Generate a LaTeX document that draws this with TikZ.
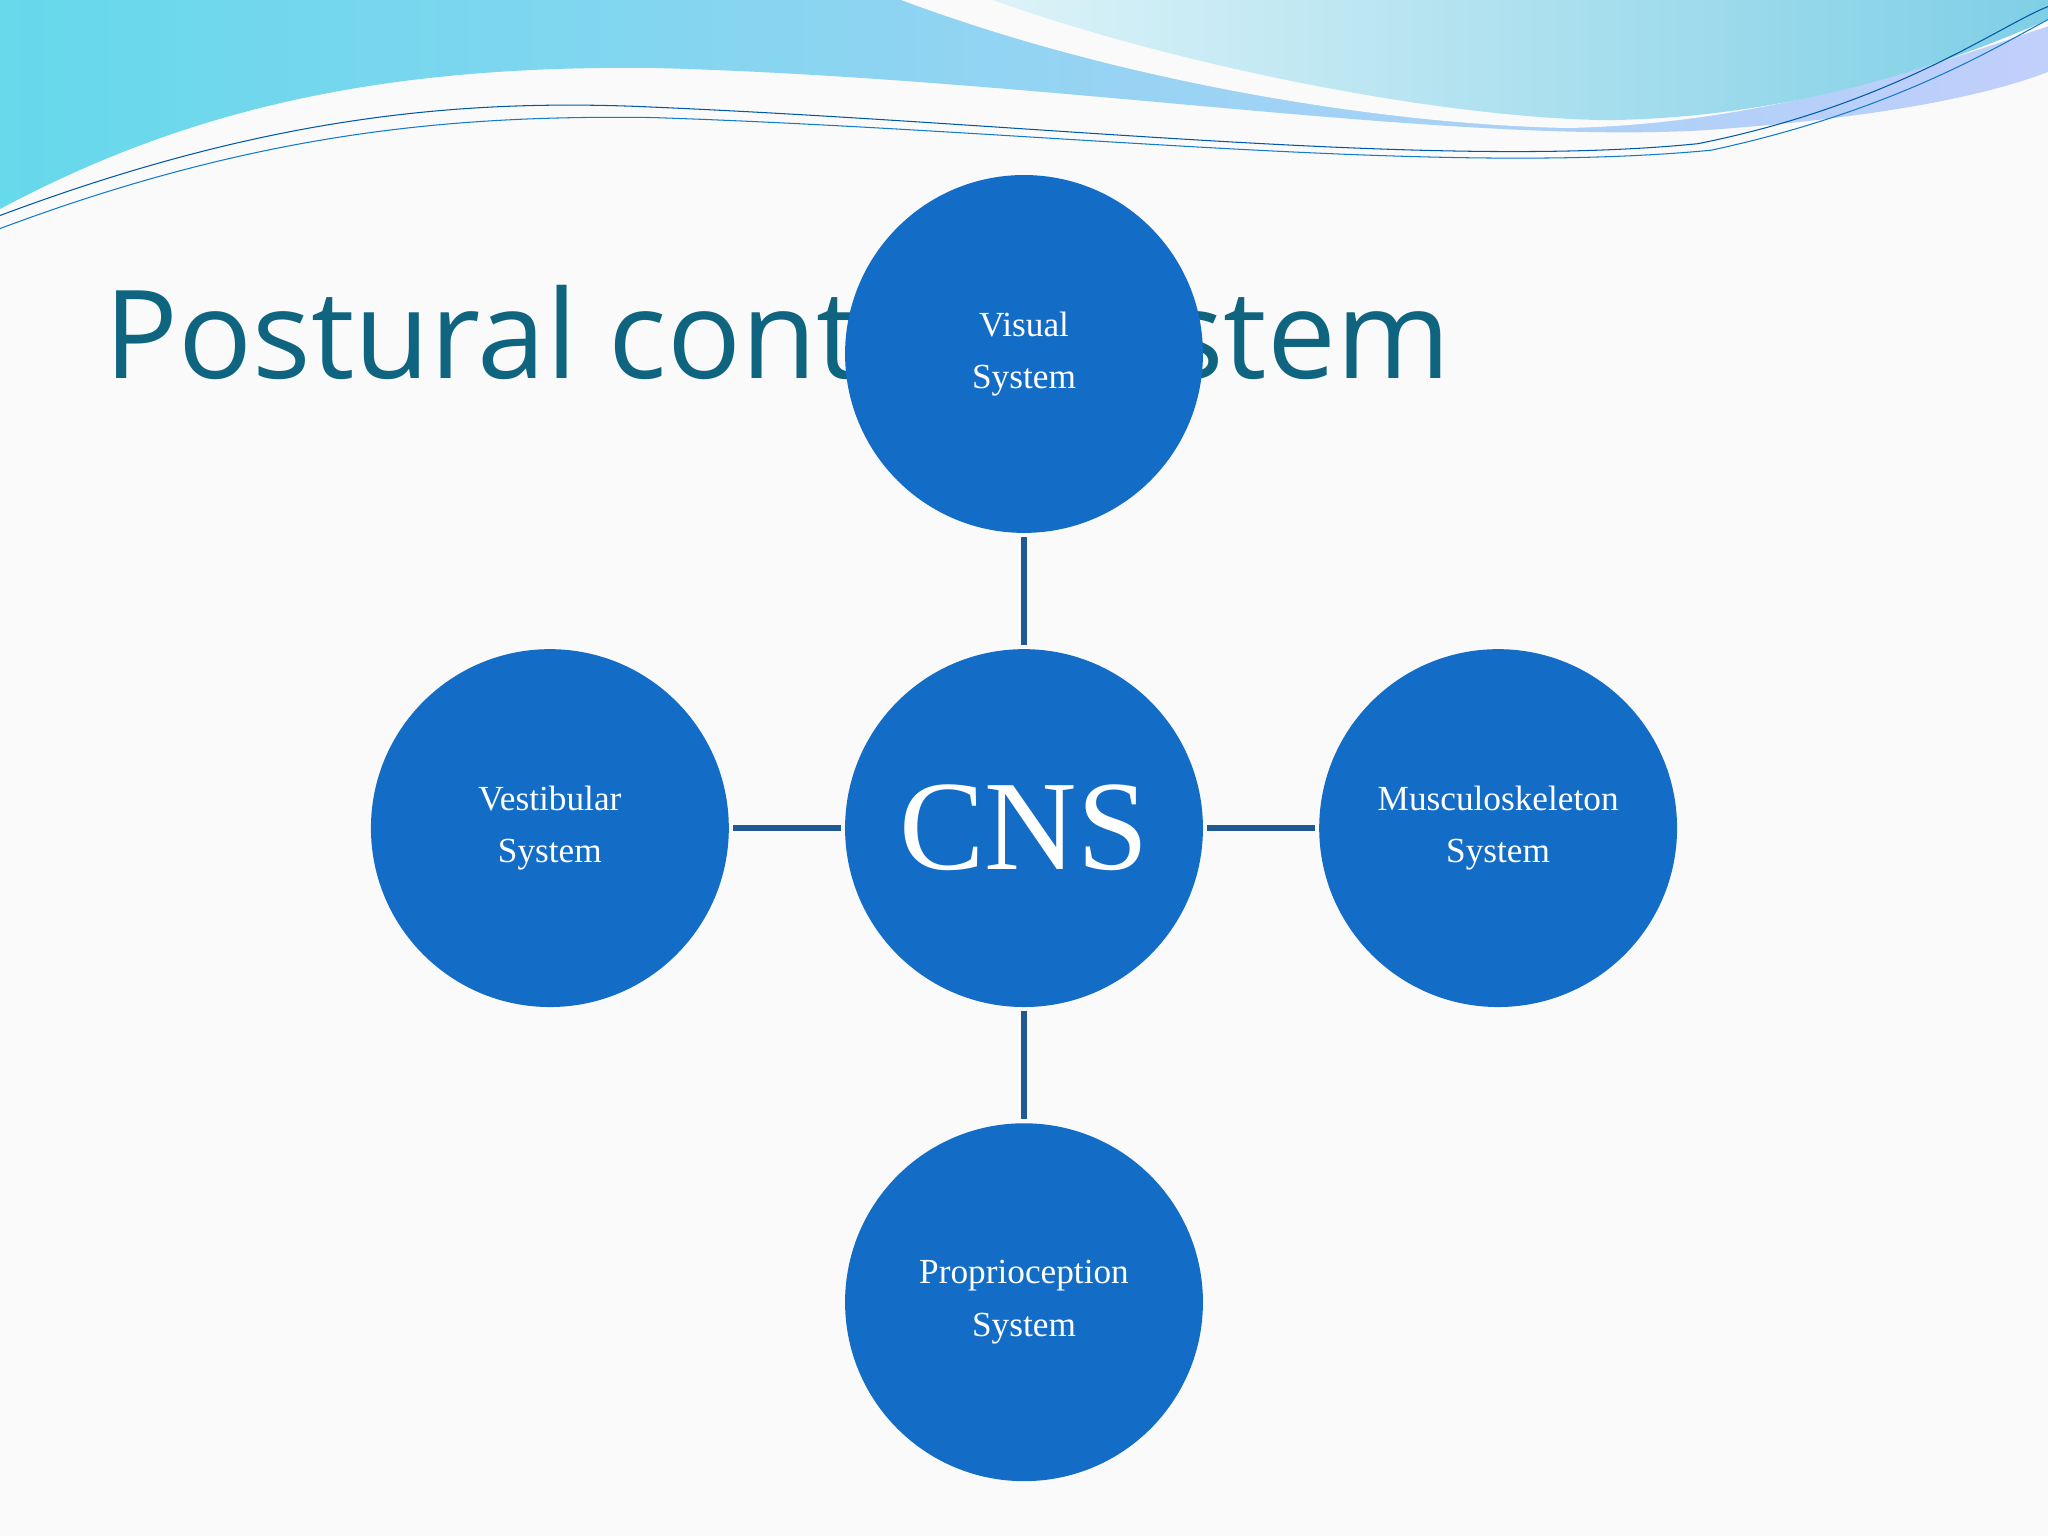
\documentclass[tikz,border=0pt]{standalone}
\usepackage{fontspec}
\setmainfont{Liberation Serif}
\newfontfamily\titlefont{Open Sans}
\begin{document}
\begin{tikzpicture}[x=1pt,y=-1pt,
  sys/.style={circle,fill=circ,minimum size=274pt,inner sep=0pt,text=white,align=center,font=\fontsize{27}{40}\selectfont},
  link/.style={draw=linkc,line width=4pt,shorten <=3pt,shorten >=3pt}]
\definecolor{circ}{HTML}{136CC6}
\definecolor{linkc}{HTML}{1F5A95}
\definecolor{titlec}{HTML}{0F6580}
\definecolor{wave1}{HTML}{7FCFE6}
\definecolor{wave2}{HTML}{A8E0EE}
\useasboundingbox (0,0) rectangle (1568,1176);
\fill[white!96!gray] (0,0) rectangle (1568,1176);
% waves
\shade[left color=wave1!80!cyan, right color=wave2!60!blue!40!white] (0,0) -- (0,160) .. controls (150,80) and (300,50) .. (500,52) .. controls (800,60) and (1100,110) .. (1300,100) .. controls (1450,90) and (1530,70) .. (1568,55) -- (1568,0) -- cycle;
\fill[white!96!gray] (690,0) .. controls (850,60) and (1050,95) .. (1200,98) .. controls (1350,95) and (1480,50) .. (1568,20) -- (1568,0) -- cycle;
\shade[left color=wave2!40!white, right color=wave1] (760,0) .. controls (900,50) and (1100,90) .. (1230,92) .. controls (1380,90) and (1500,45) .. (1568,15) -- (1568,0) -- cycle;
\draw[teal!70!blue,line width=0.8pt] (0,165) .. controls (200,90) and (350,75) .. (500,82) .. controls (800,95) and (1100,130) .. (1300,110) .. controls (1450,80) and (1530,20) .. (1568,5);
\draw[cyan!60!blue,line width=0.8pt] (0,175) .. controls (200,100) and (350,88) .. (500,90) .. controls (800,100) and (1100,135) .. (1310,115) .. controls (1450,85) and (1530,35) .. (1568,15);
\node[anchor=base west,text=titlec,font=\titlefont\fontsize{94}{110}\selectfont,inner sep=0pt] (title) at (80,290) {Postural control system};
\node[sys] (vis) at (784,271) {Visual\\System};
\node[sys] (ves) at (421,634) {Vestibular\\System};
\node[sys,font=\fontsize{98}{98}\selectfont] (cns) at (784,634) {CNS};
\node[sys] (mus) at (1147,634) {Musculoskeleton\\System};
\node[sys] (pro) at (784,997) {Proprioception\\System};
\draw[link] (vis) -- (cns);
\draw[link] (cns) -- (pro);
\draw[link] (ves) -- (cns);
\draw[link] (cns) -- (mus);
\end{tikzpicture}
\end{document}
